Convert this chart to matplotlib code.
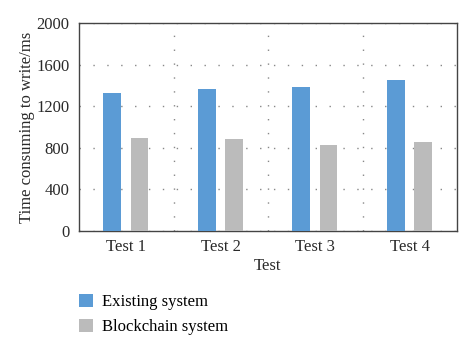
import matplotlib
matplotlib.use("Agg")
import matplotlib.pyplot as plt
import numpy as np

categories = ["Test 1", "Test 2", "Test 3", "Test 4"]
existing = [1324, 1362, 1385, 1449]
blockchain = [894, 888, 824, 859]
yticks = [0, 400, 800, 1200, 1600, 2000]

plt.rcParams['font.family'] = ['Liberation Serif', 'DejaVu Serif']
plt.rcParams['font.size'] = 12

fig = plt.figure(figsize=(4.74, 3.51), dpi=100)
ax = fig.add_axes([79/474, 1 - 231/351, (457-79)/474, (231-23)/351])

x = np.arange(len(categories))
w = 0.19
ax.bar(x - 0.15, existing, w, color="#5B9BD5", label="Existing system", zorder=3)
ax.bar(x + 0.14, blockchain, w, color="#BBBBBB", label="Blockchain system", zorder=3)

ax.set_xlim(-0.5, len(categories) - 0.5)
ax.set_ylim(0, 2000)
ax.set_yticks(yticks)
ax.set_xticks(x)
ax.set_xticklabels(categories)
ax.set_xticks(np.arange(len(categories) - 1) + 0.5, minor=True)
ax.tick_params(axis='both', which='both', length=0, colors='#2a2a2a', labelsize=12)
ax.tick_params(axis='x', pad=6)
ax.tick_params(axis='y', pad=7)
ax.grid(axis='y', which='major', linestyle=(0, (1, 9)), color='#888888', linewidth=1.0, zorder=0)
ax.grid(axis='x', which='minor', linestyle=(0, (1, 9)), color='#888888', linewidth=1.0, zorder=0)
ax.grid(axis='x', which='major', visible=False)
for s in ax.spines.values():
    s.set_color('#444444')
    s.set_linewidth(1.0)

ax.set_ylabel("Time consuming to write/ms", fontsize=12, color='#2a2a2a', labelpad=1)
ax.set_xlabel("Test", fontsize=12, color='#2a2a2a', labelpad=2)

handles, labels = ax.get_legend_handles_labels()
fig.legend(handles, labels, loc='upper left', bbox_to_anchor=(64/474, 1 - 279/351),
           frameon=False, handlelength=0.85, handleheight=0.85, handletextpad=0.5,
           labelspacing=0.5, fontsize=12)

fig.savefig("out.png", dpi=100, facecolor='white')
